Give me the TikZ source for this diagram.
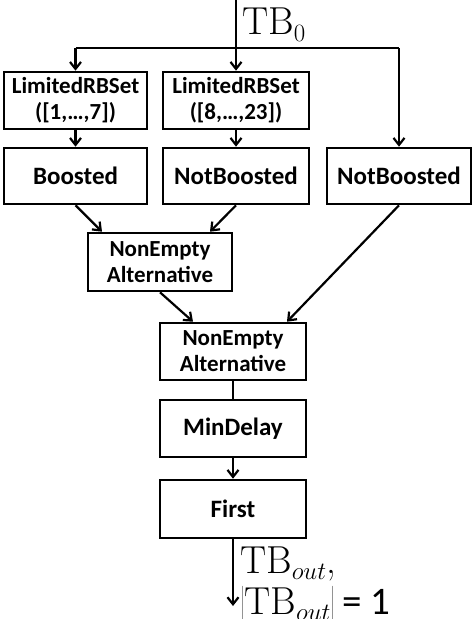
\documentclass[tikz,border=0pt]{standalone}
\usepackage{fontspec}
\setsansfont{Carlito}
\usetikzlibrary{arrows.meta}
\begin{document}
\begin{tikzpicture}[x=1pt,y=-1pt,
  blk/.style={draw,line width=2.6pt,inner sep=0pt,align=center,
    font=\sffamily\bfseries\fontsize{25}{26}\selectfont},
  two/.style={font=\sffamily\bfseries\fontsize{23}{26}\selectfont},
  conn/.style={line width=2.2pt,-{Straight Barb[length=7pt,width=11pt,line width=2.2pt]}},
  lbl/.style={font=\fontsize{39}{40}\selectfont,inner sep=0pt,anchor=base west}]
\useasboundingbox (0,0) rectangle (474,619);
\node[blk,two,minimum width=143pt,minimum height=57pt] (lr1) at (75.5,100.5) {LimitedRBSet\\([1,…,7])};
\node[blk,two,minimum width=146pt,minimum height=57pt] (lr2) at (236,100.5) {LimitedRBSet\\([8,…,23])};
\node[blk,minimum width=143pt,minimum height=56pt] (b1) at (75.5,176) {Boosted};
\node[blk,minimum width=146pt,minimum height=56pt] (nb1) at (236,176) {NotBoosted};
\node[blk,minimum width=144pt,minimum height=56pt] (nb2) at (399,176) {NotBoosted};
\node[blk,two,minimum width=144pt,minimum height=58pt] (ne1) at (160,262) {NonEmpty\\Alternative};
\node[blk,two,minimum width=146pt,minimum height=57pt] (ne2) at (233,351.5) {NonEmpty\\Alternative};
\node[blk,minimum width=146pt,minimum height=57pt] (md) at (233,428.5) {MinDelay};
\node[blk,minimum width=146pt,minimum height=58pt] (fi) at (233,509) {First};
\coordinate (top) at (236,0);
\coordinate (jn) at (236,48);
\coordinate (jl) at (75.5,48);
\coordinate (jr) at (399,48);
\coordinate (out) at (233,606);
\draw[line width=2.2pt] (top) -- (jn);
\draw[line width=2.2pt] (jl) -- (jr);
\draw[conn] (jl) -- (lr1.north);
\draw[conn] (jn) -- (lr2.north);
\draw[conn] (jr) -- (nb2.north);
\draw[conn] (lr1) -- (b1);
\draw[conn] (lr2) -- (nb1);
\draw[conn] (b1.south) -- ([xshift=-58pt]ne1.north);
\draw[conn] (nb1.south) -- ([xshift=50pt]ne1.north);
\draw[conn] (ne1.south) -- ([xshift=-40pt]ne2.north);
\draw[conn] (nb2.south) -- ([xshift=54pt]ne2.north);
\draw[line width=2.2pt] (ne2) -- (md);
\draw[conn] (md) -- (fi);
\draw[conn] (fi.south) -- (out);
\node[lbl] (tb0) at (242,34) {$\mathrm{TB}_0$};
\node[lbl] (tbo) at (240,573) {$\mathrm{TB}_{out}$,};
\node[lbl] (tbn) at (241,614) {$\left|\mathrm{TB}_{out}\right|\,\textsf{= 1}$};
\end{tikzpicture}
\end{document}
